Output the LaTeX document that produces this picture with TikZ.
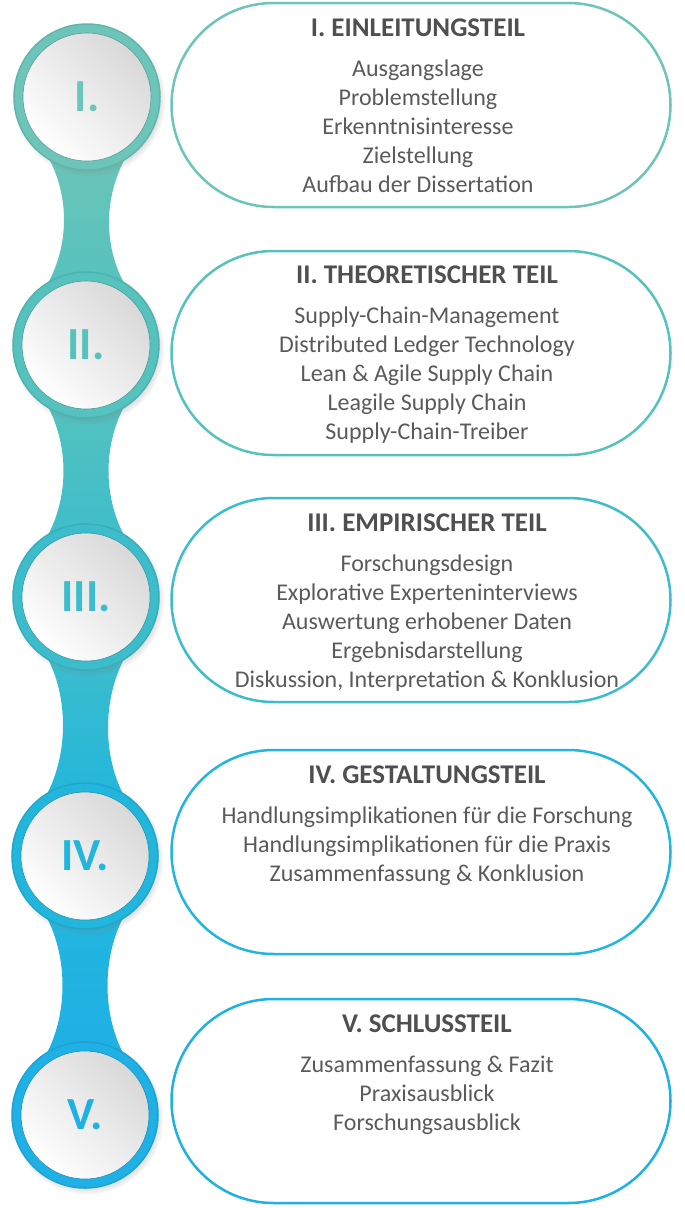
\documentclass[tikz,border=0pt]{standalone}
\usepackage{fontspec}
\setmainfont{Carlito}
\usetikzlibrary{shapes.misc,shadows,backgrounds}

\definecolor{cI}{HTML}{6CC5B8}
\definecolor{cII}{HTML}{55C2BE}
\definecolor{cIII}{HTML}{3DBDCB}
\definecolor{cIV}{HTML}{22B6DD}
\definecolor{cV}{HTML}{1FB0E5}
\definecolor{txtgray}{HTML}{5A5A5A}
\definecolor{titlegray}{HTML}{4F4F4F}

\tikzset{
  phase/.style={rounded rectangle, draw=#1, line width=2.5pt,
    minimum width=499pt, minimum height=204pt, inner sep=0pt},
  ring/.style={circle, fill=#1, draw=#1!92!black, line width=1.5pt,
    minimum size=146pt, inner sep=0pt,
    circular drop shadow={shadow xshift=2pt, shadow yshift=-3pt,
      shadow scale=1.05, opacity=.4}},
  disc/.style={circle, draw=#1!80!black, line width=.6pt,
    minimum size=128pt, inner sep=0pt,
    top color=black!15, bottom color=white, shading angle=-45,
    text=#1, font=\fontsize{46}{46}\selectfont\bfseries},
  items/.style={align=center, anchor=north, inner sep=0pt,
    text=txtgray, font=\fontsize{24}{29}\selectfont},
  strap/.style 2 args={top color=#1, bottom color=#2},
}
\newcommand{\ttl}[1]{\textcolor{titlegray}{\fontsize{27}{29}\selectfont\textbf{#1}}}

\begin{document}
\begin{tikzpicture}[x=1pt, y=1pt]
  \useasboundingbox (0,0) rectangle (685,-1208);

  % circles
  \node[ring=cI]   (ringI)   at (87,-97)   {};
  \node[disc=cI]   (discI)   at (ringI)    {I.};
  \node[ring=cII]  (ringII)  at (86,-345)  {};
  \node[disc=cII]  (discII)  at (ringII)   {II.};
  \node[ring=cIII] (ringIII) at (86,-597)  {};
  \node[disc=cIII] (discIII) at (ringIII)  {III.};
  \node[ring=cIV]  (ringIV)  at (85,-856)  {};
  \node[disc=cIV]  (discIV)  at (ringIV)   {IV.};
  \node[ring=cV]   (ringV)   at (85,-1115) {};
  \node[disc=cV]   (discV)   at (ringV)    {V.};

  % straps between the circles
  \begin{scope}[on background layer]
    \shade[strap={cI}{cII}]
      ([shift={(-45,-50)}]ringI.center)
      .. controls ([shift={(-15,-95)}]ringI.center) and ([shift={(-15,95)}]ringII.center) ..
      ([shift={(-45,50)}]ringII.center) -- ([shift={(45,50)}]ringII.center)
      .. controls ([shift={(15,95)}]ringII.center) and ([shift={(15,-95)}]ringI.center) ..
      ([shift={(45,-50)}]ringI.center) -- cycle;
    \shade[strap={cII}{cIII}]
      ([shift={(-45,-50)}]ringII.center)
      .. controls ([shift={(-15,-95)}]ringII.center) and ([shift={(-15,95)}]ringIII.center) ..
      ([shift={(-45,50)}]ringIII.center) -- ([shift={(45,50)}]ringIII.center)
      .. controls ([shift={(15,95)}]ringIII.center) and ([shift={(15,-95)}]ringII.center) ..
      ([shift={(45,-50)}]ringII.center) -- cycle;
    \shade[strap={cIII}{cIV}]
      ([shift={(-45,-50)}]ringIII.center)
      .. controls ([shift={(-15,-95)}]ringIII.center) and ([shift={(-15,95)}]ringIV.center) ..
      ([shift={(-45,50)}]ringIV.center) -- ([shift={(45,50)}]ringIV.center)
      .. controls ([shift={(15,95)}]ringIV.center) and ([shift={(15,-95)}]ringIII.center) ..
      ([shift={(45,-50)}]ringIII.center) -- cycle;
    \shade[strap={cIV}{cV}]
      ([shift={(-45,-50)}]ringIV.center)
      .. controls ([shift={(-15,-95)}]ringIV.center) and ([shift={(-15,95)}]ringV.center) ..
      ([shift={(-45,50)}]ringV.center) -- ([shift={(45,50)}]ringV.center)
      .. controls ([shift={(15,95)}]ringV.center) and ([shift={(15,-95)}]ringIV.center) ..
      ([shift={(45,-50)}]ringIV.center) -- cycle;
  \end{scope}

  % boxes
  \node[phase=cI]   (boxI)   at (421,-105)  {};
  \node[phase=cII]  (boxII)  at (421,-353)  {};
  \node[phase=cIII] (boxIII) at (421,-600)  {};
  \node[phase=cIV]  (boxIV)  at (421,-852)  {};
  \node[phase=cV]   (boxV)   at (421,-1101) {};

  % texts
  \node[items] (txtI) at (418,-16) {\strut\ttl{I. EINLEITUNGSTEIL}\\[11pt]
    Ausgangslage\\ Problemstellung\\ Erkenntnisinteresse\\
    Zielstellung\\ Aufbau der Dissertation};
  \node[items] (txtII) at (427,-263) {\strut\ttl{II. THEORETISCHER TEIL}\\[11pt]
    Supply-Chain-Management\\ Distributed Ledger Technology\\
    Lean \& Agile Supply Chain\\ Leagile Supply Chain\\ Supply-Chain-Treiber};
  \node[items] (txtIII) at (427,-511) {\strut\ttl{III. EMPIRISCHER TEIL}\\[11pt]
    Forschungsdesign\\ Explorative Experteninterviews\\
    Auswertung erhobener Daten\\ Ergebnisdarstellung\\
    Diskussion, Interpretation \& Konklusion};
  \node[items] (txtIV) at (427,-763) {\strut\ttl{IV. GESTALTUNGSTEIL}\\[11pt]
    Handlungsimplikationen für die Forschung\\
    Handlungsimplikationen für die Praxis\\
    Zusammenfassung \& Konklusion};
  \node[items] (txtV) at (427,-1012) {\strut\ttl{V. SCHLUSSTEIL}\\[11pt]
    Zusammenfassung \& Fazit\\ Praxisausblick\\ Forschungsausblick};
\end{tikzpicture}
\end{document}
